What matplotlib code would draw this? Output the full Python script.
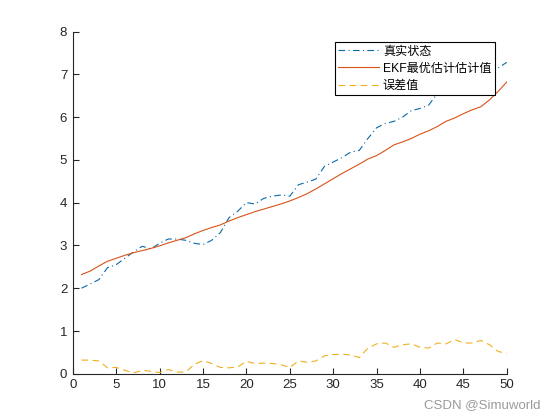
import matplotlib
matplotlib.use('Agg')
import matplotlib.pyplot as plt

# time steps and the three series
steps = list(range(1, 51))
true_state = [2.00, 2.10, 2.20, 2.48, 2.55, 2.70, 2.85, 2.98, 2.92, 3.05,
              3.15, 3.15, 3.12, 3.05, 3.02, 3.12, 3.30, 3.65, 3.80, 4.00,
              3.97, 4.10, 4.15, 4.18, 4.15, 4.42, 4.48, 4.55, 4.85, 4.95,
              5.05, 5.18, 5.22, 5.50, 5.75, 5.85, 5.90, 6.00, 6.15, 6.20,
              6.28, 6.55, 6.70, 6.85, 6.95, 7.00, 7.05, 7.10, 7.15, 7.28]
ekf_est = [2.32, 2.40, 2.52, 2.63, 2.70, 2.77, 2.83, 2.88, 2.93, 2.99,
           3.06, 3.12, 3.18, 3.27, 3.35, 3.42, 3.48, 3.57, 3.65, 3.72,
           3.79, 3.85, 3.91, 3.97, 4.04, 4.12, 4.21, 4.32, 4.44, 4.56,
           4.68, 4.79, 4.90, 5.02, 5.10, 5.22, 5.35, 5.42, 5.50, 5.60,
           5.68, 5.78, 5.90, 5.98, 6.08, 6.17, 6.24, 6.40, 6.60, 6.82]
error = [0.32, 0.32, 0.30, 0.14, 0.15, 0.08, 0.02, 0.08, 0.06, 0.03,
         0.10, 0.04, 0.04, 0.22, 0.31, 0.24, 0.15, 0.14, 0.16, 0.29,
         0.24, 0.25, 0.24, 0.21, 0.15, 0.30, 0.27, 0.30, 0.42, 0.45,
         0.46, 0.44, 0.38, 0.60, 0.70, 0.72, 0.62, 0.68, 0.70, 0.62,
         0.60, 0.72, 0.70, 0.80, 0.72, 0.72, 0.78, 0.68, 0.52, 0.48]
labels = ['真实状态', 'EKF最优估计估计值', '误差值']

plt.rcParams['font.family'] = ['Liberation Sans', 'Noto Sans CJK SC', 'DejaVu Sans']

fig = plt.figure(figsize=(5.6, 4.2), dpi=100)
ax = fig.add_axes([0.13, 0.11, 0.775, 0.815])

ax.plot(steps, true_state, color='#0a6aa8', lw=0.8, label=labels[0],
        linestyle=(0, (6, 3, 1, 3)))
ax.plot(steps, ekf_est, '-', color='#D95319', lw=0.8, label=labels[1])
ax.plot(steps, error, color='#EDB120', lw=0.8, label=labels[2],
        linestyle=(0, (6, 4)))

ax.set_xlim(0, 50)
ax.set_ylim(0, 8)
ax.set_xticks(range(0, 51, 5))
ax.set_yticks(range(0, 9))
for s in ('top', 'right'):
    ax.spines[s].set_visible(False)
for s in ('left', 'bottom'):
    ax.spines[s].set_color('#262626')
    ax.spines[s].set_linewidth(0.8)
ax.tick_params(direction='in', length=4, width=0.8, colors='#262626',
               labelsize=9.5, pad=4)

leg = ax.legend(loc='upper right', bbox_to_anchor=(495 / 560, 1 - 42 / 420),
                bbox_transform=fig.transFigure, borderaxespad=0, fontsize=8.7,
                fancybox=False, framealpha=1, edgecolor='black',
                handlelength=3.4, handletextpad=0.3, labelspacing=0.42,
                borderpad=0.3)
leg.get_frame().set_linewidth(0.8)

fig.text(0.965, 0.022, 'CSDN @Simuworld', ha='right', va='bottom',
         fontsize=9.5, color='#9a9a9a')

fig.savefig('out.png', dpi=100)
